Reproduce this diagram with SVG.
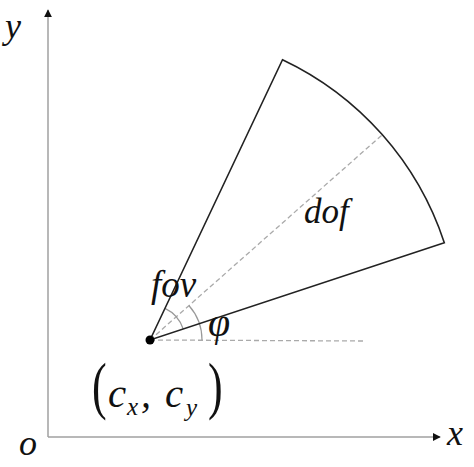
<svg xmlns="http://www.w3.org/2000/svg" width="474" height="467" viewBox="0 0 474 467">
<style>
.axis{stroke:#a0a0a0;stroke-width:1.5;fill:none}
.edge{stroke:#222;stroke-width:1.6;fill:none}
.dash{stroke:#aaa;stroke-width:1.3;stroke-dasharray:5 3;fill:none}
.arc{stroke:#999;stroke-width:1.2;fill:none}
</style>
<defs>
<marker id="ah" viewBox="0 0 10 10" refX="9" refY="5" markerWidth="8" markerHeight="8" markerUnits="userSpaceOnUse" orient="auto">
<path d="M0,0 L10,5 L0,10 z" fill="#111"/>
</marker>
</defs>
<rect width="474" height="467" fill="#fff"/>
<g id="axes">
<line class="axis" x1="48" y1="437" x2="48" y2="10" marker-end="url(#ah)"/>
<line class="axis" x1="48" y1="437" x2="440" y2="437" marker-end="url(#ah)"/>
<text x="5" y="38" font-family="Liberation Serif" font-style="italic" fill="#111" font-size="36">y</text>
<text x="447" y="445" font-family="Liberation Serif" font-style="italic" fill="#111" font-size="36">x</text>
<text x="19" y="455" font-family="Liberation Serif" font-style="italic" fill="#111" font-size="36">o</text>
</g>
<g id="connectors">
<line class="dash" x1="150" y1="340" x2="363" y2="341"/>
<line class="dash" x1="150" y1="340" x2="382" y2="135"/>
<path class="arc" d="M165,308.4 A35,35 0 0 1 183.2,329"/>
<path class="arc" d="M188.9,305.5 A52,52 0 0 1 202,340"/>
</g>
<g id="sector">
<path class="edge" d="M150,340 L282.5,59.7 A310,310 0 0 1 444.3,242.7 Z"/>
</g>
<g id="center">
<circle cx="150" cy="340" r="4.5" fill="#000"/>
</g>
<g id="labels" fill="#111">
<text x="151" y="297" font-size="37" font-family="Liberation Serif" font-style="italic">fov</text>
<text x="208" y="336" font-size="40" font-family="Liberation Serif" font-style="italic">φ</text>
<text x="304" y="223" font-size="35" font-family="Liberation Serif" font-style="italic">dof</text>
<text font-size="44" font-family="Liberation Serif" transform="translate(92,407) scale(1,1.45)">(</text>
<text font-size="44" font-family="Liberation Serif" transform="translate(208,407) scale(1,1.45)">)</text>
<text x="108" y="407" font-size="41" font-family="Liberation Serif" font-style="italic">c</text>
<text x="127" y="415" font-size="25" font-family="Liberation Serif" font-style="italic">x</text>
<text x="141" y="407" font-size="40" font-family="Liberation Serif" font-style="italic">,</text>
<text x="165" y="407" font-size="41" font-family="Liberation Serif" font-style="italic">c</text>
<text x="186" y="416" font-size="25" font-family="Liberation Serif" font-style="italic">y</text>
</g>
</svg>
